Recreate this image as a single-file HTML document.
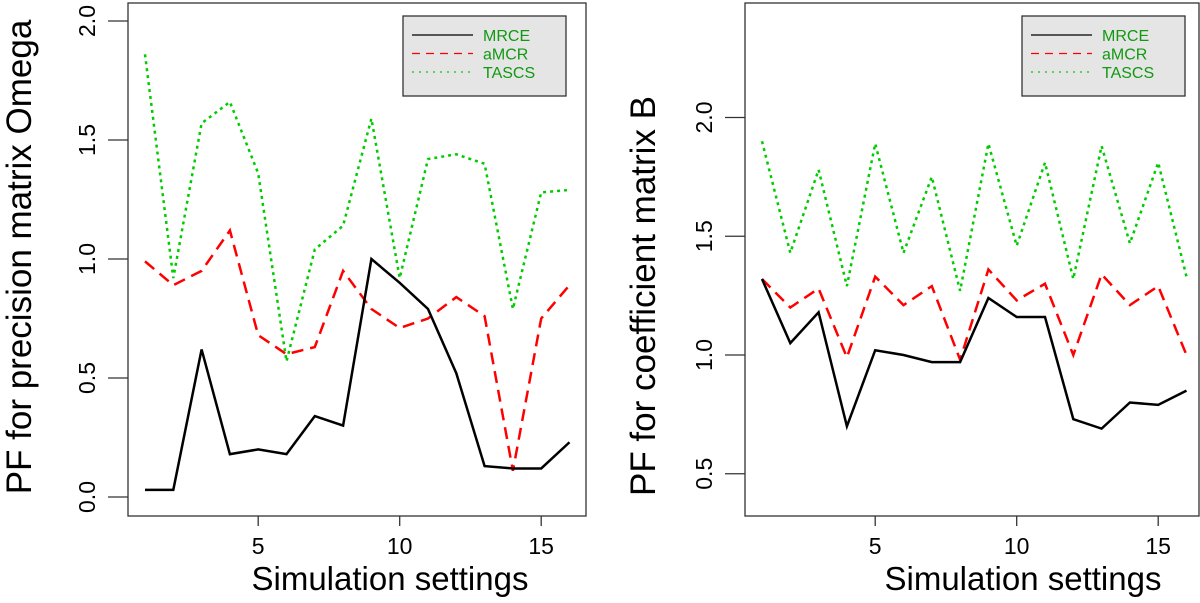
<!DOCTYPE html>
<html><head><meta charset="utf-8"><style>
body{margin:0;background:#fff;}
svg{display:block;font-family:"Liberation Sans",Arial,sans-serif;}
</style></head><body>
<svg id="c" width="1200" height="603" viewBox="0 0 1200 603"></svg>
<script>
const xs=[1,2,3,4,5,6,7,8,9,10,11,12,13,14,15,16];
const xTicks=[5,10,15];
const leftTicks=[0,0.5,1.0,1.5,2.0];
const leftTickLabels=["0.0","0.5","1.0","1.5","2.0"];
const rightTicks=[0.5,1.0,1.5,2.0];
const rightTickLabels=["0.5","1.0","1.5","2.0"];
const leftMRCE=[0.03,0.03,0.62,0.18,0.2,0.18,0.34,0.3,1.0,0.9,0.79,0.52,0.13,0.12,0.12,0.23];
const leftAMCR=[0.99,0.89,0.95,1.12,0.68,0.6,0.63,0.95,0.79,0.71,0.75,0.84,0.76,0.11,0.75,0.89];
const leftTASCS=[1.86,0.92,1.57,1.66,1.36,0.57,1.04,1.14,1.59,0.92,1.42,1.44,1.40,0.79,1.28,1.29];
const rightMRCE=[1.32,1.05,1.18,0.70,1.02,1.00,0.97,0.97,1.24,1.16,1.16,0.73,0.69,0.80,0.79,0.85];
const rightAMCR=[1.32,1.20,1.28,0.99,1.33,1.21,1.29,0.98,1.36,1.23,1.30,1.00,1.34,1.21,1.29,1.00];
const rightTASCS=[1.90,1.43,1.78,1.29,1.89,1.43,1.75,1.27,1.89,1.46,1.81,1.32,1.88,1.47,1.81,1.33];
const legendNames=["MRCE","aMCR","TASCS"];

const NS="http://www.w3.org/2000/svg";
const svg=document.getElementById('c');
function mk(tag,attrs,parent){const e=document.createElementNS(NS,tag);for(const k in attrs)e.setAttribute(k,attrs[k]);(parent||svg).appendChild(e);return e;}

const styles=[{stroke:"#000",dash:"",w:2.5},{stroke:"#ff0000",dash:"12,7",w:2.5},{stroke:"#00cc00",dash:"3,4",w:2.5}];

function panel(cfg){
  const g=mk('g',{});
  
  
  const sx=v=>cfg.x1+(v-1)*cfg.xu;
  const sy=v=>cfg.y0-v*cfg.yu;
  const box=mk('rect',{x:cfg.bl,y:3,width:cfg.br-cfg.bl,height:513,fill:"none",stroke:"#333","stroke-width":1.3},g);
  
  
  xTicks.forEach(t=>{
    const l=mk('line',{x1:sx(t),x2:sx(t),y1:516,y2:526,stroke:"#333","stroke-width":1.3},g);
    
    
    const tx=mk('text',{x:sx(t),y:554,"font-size":23,"text-anchor":"middle",fill:"#000"},g);
    
    
    tx.textContent=t;
  });
  cfg.ticks.forEach((t,i)=>{
    const y=sy(t);
    const l=mk('line',{x1:cfg.bl-20,x2:cfg.bl,y1:y,y2:y,stroke:"#333","stroke-width":1.3},g);
    
    
    const tx=mk('text',{x:0,y:0,"font-size":23,"text-anchor":"middle",fill:"#000",transform:`translate(${cfg.bl-33},${y}) rotate(-90)`},g);
    
    
    tx.textContent=cfg.labels[i];
  });
  const xt=mk('text',{x:cfg.xtc,y:590,"font-size":33,"text-anchor":"middle",fill:"#000"},g);
  
  
  xt.textContent="Simulation settings";
  const yt=mk('text',{x:0,y:0,"font-size":35,"text-anchor":"middle",fill:"#000",transform:`translate(${cfg.ytx},${cfg.ytc}) rotate(-90)`},g);
  
  
  yt.textContent=cfg.ytitle;
  [cfg.s[2],cfg.s[1],cfg.s[0]].forEach((vals,k)=>{
    const st=styles[2-k];
    const p=mk('polyline',{points:xs.map((x,i)=>sx(x)+","+sy(vals[i])).join(" "),fill:"none",stroke:st.stroke,"stroke-width":st.w,"stroke-dasharray":st.dash,"stroke-linejoin":"miter"},g);
    
    
  });
  const lg=mk('g',{},g);
  
  
  mk('rect',{x:cfg.lx,y:16,width:163,height:80,fill:"#e5e5e5",stroke:"#333","stroke-width":1.3},lg);
  legendNames.forEach((n,i)=>{
    const st=styles[i];const y=35+i*18.5;
    mk('line',{x1:cfg.lx+9,x2:cfg.lx+70,y1:y,y2:y,stroke:st.stroke,"stroke-width":1.3,"stroke-dasharray":st.dash?(i==1?"8,6":"2,5"):""},lg);
    const t=mk('text',{x:cfg.lx+80,y:y+6,"font-size":16,fill:"#119911"},lg);
    
    
    t.textContent=n;
  });
}
panel({name:"left-panel",bl:128,br:586,x1:145,xu:28.3,y0:497,yu:238,ticks:leftTicks,labels:leftTickLabels,ytitle:"PF for precision matrix Omega",ytx:31,ytc:257,xtc:390,lx:403,s:[leftMRCE,leftAMCR,leftTASCS]});
panel({name:"right-panel",bl:745,br:1199,x1:762,xu:28.3,y0:592.5,yu:237.5,ticks:rightTicks,labels:rightTickLabels,ytitle:"PF for coefficient matrix B",ytx:655,ytc:296,xtc:1023,lx:1022,s:[rightMRCE,rightAMCR,rightTASCS]});
</script>
</body></html>
